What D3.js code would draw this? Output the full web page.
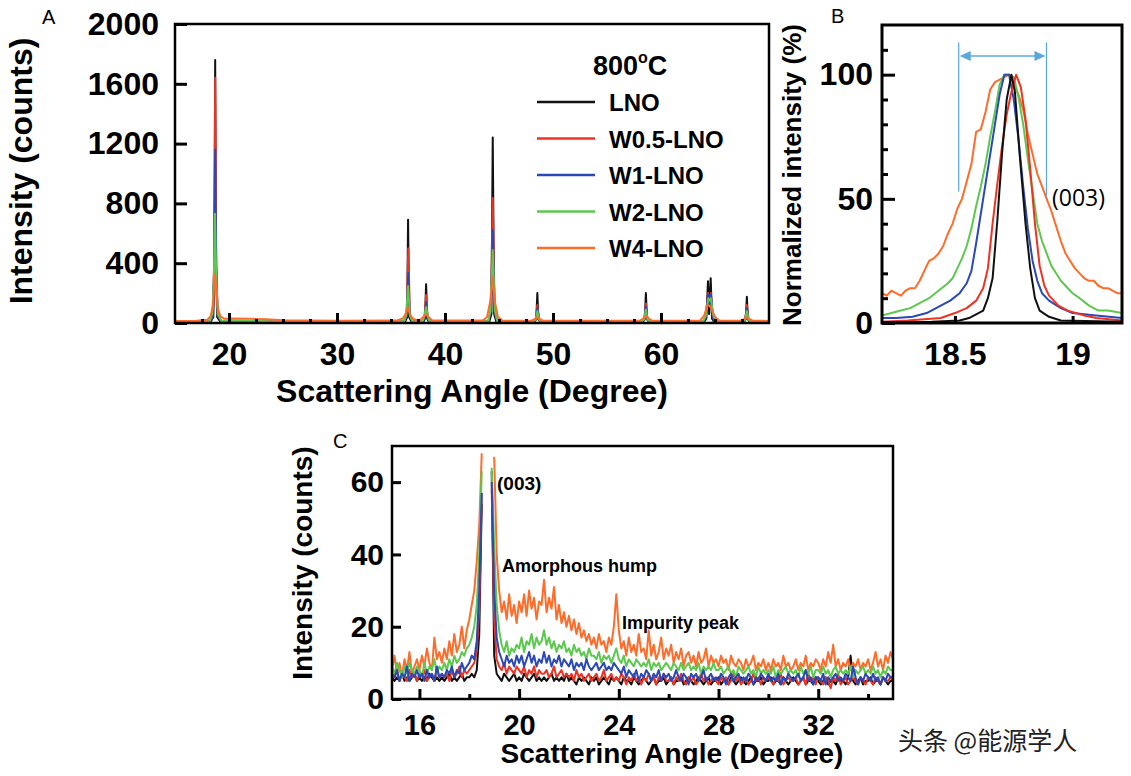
<!DOCTYPE html>
<html>
<head>
<meta charset="utf-8">
<script src="https://cdn.jsdelivr.net/npm/d3@7/dist/d3.min.js"></script>
<style>
  body { margin: 0; background: #fff; }
  svg { display: block; }
</style>
</head>
<body>
<svg id="chart" width="1131" height="776"></svg>
<script>
const FONT = '"Liberation Sans", Arial, Helvetica, sans-serif';

const seriesNames = ["LNO", "W0.5-LNO", "W1-LNO", "W2-LNO", "W4-LNO"];
const seriesColors = ["#111111", "#ee3322", "#2a48b8", "#5cc84e", "#ff6c2a"];

// ---- panel A: full patterns, [angle, counts]
const aLNO = [[15,8],[18.3,8],[18.55,40],[18.65,400],[18.72,1760],[18.8,400],[18.9,40],[19.2,8],
  [36.3,8],[36.5,40],[36.58,690],[36.68,40],[36.9,8],[38.0,8],[38.15,30],[38.25,260],[38.35,30],[38.5,8],
  [44.1,8],[44.3,60],[44.42,1240],[44.55,60],[44.75,8],[48.3,8],[48.45,25],[48.55,200],[48.65,25],[48.8,8],
  [58.3,8],[58.5,25],[58.6,200],[58.7,25],[58.9,8],[64.0,8],[64.2,30],[64.35,280],[64.45,60],[64.6,300],
  [64.72,30],[64.9,8],[67.7,8],[67.85,25],[67.95,175],[68.05,25],[68.2,8],[70,8]];
const aW05 = [[15,10],[18.3,10],[18.5,50],[18.62,400],[18.72,1640],[18.82,400],[18.95,50],[19.3,10],
  [36.2,10],[36.45,50],[36.6,500],[36.75,50],[37,10],[37.9,10],[38.1,35],[38.25,187],[38.4,35],[38.6,10],
  [44.0,10],[44.25,80],[44.42,836],[44.6,80],[44.85,10],[48.2,10],[48.4,25],[48.55,120],[48.7,25],[48.9,10],
  [58.2,10],[58.45,25],[58.6,130],[58.75,25],[59.0,10],[63.9,10],[64.15,40],[64.35,200],[64.48,120],[64.62,200],
  [64.8,40],[65.0,10],[67.6,10],[67.8,25],[67.95,120],[68.1,25],[68.3,10],[70,10]];
const aW1 = [[15,8],[18.3,9],[18.5,50],[18.62,350],[18.72,1160],[18.82,350],[18.95,50],[19.3,10],
  [36.2,9],[36.45,50],[36.6,334],[36.75,50],[37,9],[37.9,9],[38.1,30],[38.25,140],[38.4,30],[38.6,9],
  [44.0,9],[44.25,80],[44.42,622],[44.6,80],[44.85,9],[48.2,9],[48.4,25],[48.55,100],[48.7,25],[48.9,9],
  [58.2,9],[58.45,25],[58.6,110],[58.75,25],[59.0,9],[63.9,9],[64.15,40],[64.35,190],[64.48,120],[64.62,190],
  [64.8,40],[65.0,9],[67.6,9],[67.8,25],[67.95,100],[68.1,25],[68.3,9],[70,9]];
const aW2 = [[15,9],[18.2,10],[18.45,60],[18.6,300],[18.7,730],[18.82,300],[18.97,60],[19.3,15],[20,16],[23,14],[24,10],
  [36.2,10],[36.4,50],[36.58,247],[36.75,50],[37,10],[37.9,10],[38.05,35],[38.25,107],[38.45,35],[38.6,10],
  [44.0,10],[44.2,80],[44.42,488],[44.62,80],[44.85,10],[48.2,10],[48.4,25],[48.55,80],[48.7,25],[48.9,10],
  [58.2,10],[58.45,25],[58.6,90],[58.75,25],[59.0,10],[63.9,10],[64.15,50],[64.38,165],[64.5,150],[64.62,165],
  [64.85,50],[65.1,10],[67.6,10],[67.8,25],[67.95,80],[68.1,25],[68.3,10],[70,10]];
const aW4 = [[15,14],[17,15],[18.0,22],[18.3,45],[18.5,110],[18.62,250],[18.7,330],[18.8,250],[18.95,100],[19.2,45],
  [19.6,28],[20.5,30],[22,28],[23.5,25],[25,18],[30,15],[35.5,16],[36.1,30],[36.35,60],[36.55,107],[36.75,60],
  [37.0,30],[37.3,20],[37.7,22],[38.0,40],[38.25,60],[38.5,38],[38.8,18],[43.5,16],[43.9,40],[44.2,150],[44.4,308],
  [44.6,150],[44.9,40],[45.3,16],[48.0,15],[48.3,25],[48.55,40],[48.8,25],[49.1,15],[58.0,15],[58.35,30],[58.6,50],
  [58.85,30],[59.2,15],[63.6,16],[64.0,50],[64.3,120],[64.5,115],[64.7,90],[65.0,40],[65.4,16],[67.4,15],[67.7,25],
  [67.95,40],[68.2,25],[68.5,15],[70,14]];
const aSeries = [aLNO, aW05, aW1, aW2, aW4];
const aYTicks = [0, 400, 800, 1200, 1600, 2000];
const aXTicks = [20, 30, 40, 50, 60];
const aXMinor = [17.5, 22.5, 25, 27.5, 32.5, 35, 37.5, 42.5, 45, 47.5, 52.5, 55, 57.5, 62.5, 65, 67.5];

// ---- panel B: (003) normalized, [angle, %]
const bLNO = [[18.19,0.3],[18.4,0.5],[18.52,1],[18.56,2],[18.6,4],[18.62,5],[18.64,10],[18.66,18],[18.68,41],[18.7,68],
  [18.72,90],[18.74,100],[18.755,93],[18.775,68],[18.8,40],[18.82,22],[18.84,10],[18.86,5],[18.9,2.5],[18.95,1],[19.21,0.5]];
const bW05 = [[18.19,0.5],[18.3,1],[18.44,2],[18.5,4],[18.55,6],[18.59,9],[18.62,14],[18.64,22],[18.66,40],[18.68,56],
  [18.7,71],[18.72,84],[18.74,93],[18.76,100],[18.78,95],[18.8,82],[18.82,62],[18.84,40],[18.86,23],[18.88,15],[18.9,11],
  [18.94,7],[18.98,5],[19.05,3],[19.1,2],[19.21,1]];
const bW1 = [[18.19,2],[18.25,2],[18.32,2.5],[18.38,4],[18.44,7],[18.48,9],[18.52,12],[18.55,16],[18.57,21],[18.59,32],
  [18.61,44],[18.63,56],[18.65,68],[18.67,80],[18.69,92],[18.71,100],[18.73,100],[18.75,90],[18.77,74],[18.79,55],
  [18.81,38],[18.83,25],[18.85,17],[18.87,12],[18.9,9],[18.95,6],[19.0,4],[19.1,3],[19.21,2]];
const bW2 = [[18.19,3],[18.23,4],[18.27,5],[18.31,6],[18.35,8],[18.39,10],[18.43,13],[18.47,16],[18.49,18],[18.51,22],
  [18.53,26],[18.55,31],[18.57,38],[18.59,47],[18.61,55],[18.63,64],[18.65,75],[18.67,85],[18.69,96],[18.71,100],
  [18.73,100],[18.75,99],[18.77,91],[18.79,80],[18.81,66],[18.83,53],[18.85,40],[18.87,33],[18.89,28],[18.91,23],
  [18.93,20],[18.95,17],[18.97,15],[19.0,12],[19.03,10],[19.07,7],[19.11,5],[19.15,5],[19.21,4]];
const bW4 = [[18.19,12],[18.21,11],[18.23,13],[18.25,12],[18.27,11],[18.29,13],[18.31,14],[18.33,14],[18.35,17],[18.37,21],
  [18.39,25],[18.41,26],[18.43,28],[18.45,31],[18.47,36],[18.49,40],[18.51,46],[18.53,50],[18.55,57],[18.57,64],
  [18.59,77],[18.61,78],[18.63,85],[18.65,94],[18.67,97],[18.69,98],[18.71,99],[18.73,100],[18.75,96],[18.77,92],
  [18.79,86],[18.81,76],[18.83,68],[18.85,60],[18.87,55],[18.89,50],[18.91,45],[18.93,39],[18.95,33],[18.97,28],
  [18.99,25],[19.01,22],[19.03,20],[19.05,18],[19.07,17],[19.09,17],[19.11,15],[19.13,14],[19.15,14],[19.17,13],
  [19.19,12],[19.21,12]];
const bSeries = [bLNO, bW05, bW1, bW2, bW4];
const bYTicks = [0, 50, 100];
const bYMinor = [10, 20, 30, 40, 60, 70, 80, 90, 110];
const bXTicks = [18.5, 19];
const bFwhmEdges = [[18.516, 53], [18.889, 51]];
const bFwhmTop = 113, bFwhmArrow = 107.5;

// ---- panel C: zoomed low-angle region, counts every 0.1 deg from 14.9
const cStartAngle = 14.9, cStepAngle = 0.1;
const cLNO = [6,
  5,6,5,7,5,6,5,6,7,5, 6,5,6,5,7,6,5,6,5,6, 5,6,7,5,6,5,6,7,5,6,
  6,7,6,8,18,54,600,900,520,63, 12,7,6,5,7,6,5,6,7,5, 6,5,7,6,5,6,7,5,6,5,
  6,5,6,7,5,6,5,6,5,7, 5,6,5,4,6,5,6,5,4,6, 5,6,4,5,6,5,4,6,5,6,
  5,4,6,5,5,4,6,5,4,5, 6,5,4,5,6,4,5,5,6,4, 5,6,4,5,5,6,4,5,6,5,
  4,5,6,5,4,5,6,4,5,5, 6,4,5,5,4,6,5,4,5,6, 5,4,5,6,4,5,5,6,4,5,
  5,6,4,5,5,4,6,5,4,5, 6,5,4,5,6,4,5,5,4,6, 5,4,5,6,4,5,5,4,6,5,
  5,4,6,12,5,4,5,6,4,5, 5,6,4,5,5,4,6,5,4,5,
  5];
const cW05 = [7,
  6,8,5,7,6,5,8,6,7,5, 7,6,8,5,6,7,5,8,6,7, 6,7,5,8,6,7,9,6,8,7,
  8,9,10,13,25,57,330,540,320,58, 22,11,9,8,10,7,9,8,7,9, 8,7,9,6,8,7,9,6,8,7,
  7,8,6,7,9,6,7,8,6,7, 6,7,5,8,6,7,5,6,7,5, 6,7,5,6,8,5,6,7,5,6,
  5,7,6,4,6,5,7,5,6,4, 6,5,7,5,6,4,6,5,7,5, 5,6,4,6,5,7,5,4,6,5,
  6,4,5,7,5,6,4,5,6,5, 4,6,5,6,4,5,7,5,6,4, 5,6,4,5,7,5,6,4,6,5,
  6,5,4,6,5,7,4,5,6,5, 5,6,4,5,6,4,7,5,6,4, 6,5,4,6,5,3,6,5,7,4,
  5,6,4,5,6,5,4,6,5,4, 6,5,4,6,5,4,6,5,5,6,
  5];
const cW1 = [7,
  6,8,5,7,6,9,5,7,6,8, 6,7,5,8,6,7,5,9,6,7, 6,8,7,9,6,8,7,10,8,9,
  10,12,11,16,30,57,320,520,300,60, 30,17,13,11,9,12,10,11,9,12, 10,12,9,11,13,10,12,9,11,10,
  13,10,12,9,11,10,12,9,11,10, 9,11,8,10,9,10,8,11,9,8, 9,10,8,9,10,8,9,8,10,9,
  8,7,9,6,8,7,6,8,5,7, 6,8,7,5,7,6,8,5,7,6, 7,5,6,8,6,5,7,6,4,7,
  6,7,5,6,8,5,6,7,5,6, 5,7,6,4,6,7,5,6,7,5, 6,5,7,6,4,6,5,7,6,5,
  7,5,6,5,7,4,6,5,7,6, 5,6,7,5,6,8,5,6,4,6, 6,5,7,4,6,5,6,7,5,6,
  5,7,6,5,9,6,4,6,5,7, 6,5,7,5,6,4,6,5,7,6,
  6];
const cW2 = [9,
  7,10,8,6,9,7,10,8,7,9, 8,6,10,7,9,8,11,7,9,8, 10,8,11,9,12,10,11,13,12,14,
  15,17,20,26,40,63,350,560,330,64, 42,26,19,15,13,16,12,14,13,15, 14,17,13,16,15,18,14,17,15,16,
  19,15,17,14,16,13,15,14,16,13, 14,12,15,13,14,12,13,11,14,12, 12,11,13,10,12,11,12,10,12,14,
  11,10,12,9,11,10,9,11,10,9, 10,9,11,8,10,9,10,8,9,10, 9,8,10,9,8,10,8,9,10,8,
  9,8,10,7,9,8,9,8,10,8, 8,9,7,8,9,7,8,6,9,8, 7,8,9,7,8,6,9,7,8,7,
  8,7,9,6,8,7,8,9,7,8, 7,8,6,9,7,8,7,9,6,8, 8,7,9,7,8,6,8,9,7,8,
  7,8,7,9,6,8,7,8,9,7, 8,7,9,7,8,6,8,7,9,8,
  8];
const cW4 = [8,
  12,7,10,6,11,8,13,7,9,11, 8,12,9,14,10,8,17,11,13,10, 14,11,16,12,18,13,15,20,14,19,
  22,26,30,38,48,68,420,650,380,140, 67,40,30,24,27,22,29,23,26,21, 27,24,29,23,30,25,28,22,27,26,
  33,24,28,25,31,22,26,21,24,20, 23,19,22,18,21,17,19,16,18,15, 17,14,18,15,16,13,17,15,20,29,
  19,14,16,12,17,13,15,12,18,13, 14,11,19,12,15,11,13,17,11,14, 12,15,10,13,11,14,9,12,13,10,
  12,9,13,10,11,14,9,12,10,11, 9,12,10,11,8,12,10,9,11,10, 8,11,9,10,12,8,10,9,11,8,
  10,8,11,9,10,8,12,9,10,8, 9,11,8,10,9,12,8,10,9,11, 10,8,11,9,13,10,15,9,11,8,
  10,9,11,8,10,9,11,8,10,9, 11,8,10,13,9,11,8,12,10,13,
  11];
const cSeries = [cLNO, cW05, cW1, cW2, cW4];
const cYTicks = [0, 20, 40, 60];
const cXTicks = [16, 20, 24, 28, 32];
const cXMinor = [18, 22, 26, 30, 34];

const svg = d3.select("#chart");
svg.append("rect").attr("width", 1131).attr("height", 776).attr("fill", "#fff");

function styleAxis(a, size) {
  a.select(".domain").remove();
  a.selectAll(".tick line").attr("stroke", "#000").attr("stroke-width", 3);
  a.selectAll(".tick text")
    .attr("font-family", FONT).attr("font-weight", "bold")
    .attr("font-size", size).attr("fill", "#000");
  return a;
}

function addClip(id, x, y) {
  svg.append("clipPath").attr("id", id).append("rect")
    .attr("x", x.range()[0]).attr("y", y.range()[1])
    .attr("width", x.range()[1] - x.range()[0])
    .attr("height", y.range()[0] - y.range()[1]);
}

function addFrame(x, y, w) {
  svg.append("rect")
    .attr("x", x.range()[0]).attr("y", y.range()[1])
    .attr("width", x.range()[1] - x.range()[0])
    .attr("height", y.range()[0] - y.range()[1])
    .attr("fill", "none").attr("stroke", "#000").attr("stroke-width", w);
}

function label(txt, x, y, size, opts) {
  opts = opts || {};
  const t = svg.append("text").attr("x", x).attr("y", y)
    .attr("font-family", opts.family || FONT)
    .attr("font-weight", opts.weight || "bold")
    .attr("font-size", size)
    .attr("text-anchor", opts.anchor || "start")
    .attr("fill", "#000")
    .text(txt);
  if (opts.rotate) t.attr("transform", `rotate(-90,${x},${y})`);
  return t;
}

const plain = d => String(d);

// ================= Panel A =================
const aX = d3.scaleLinear().domain([15, 70]).range([175, 769]);
const aY = d3.scaleLinear().domain([0, 2000]).range([323, 24]);
addClip("clipA", aX, aY);

const aLine = d3.line().x(d => aX(d[0])).y(d => aY(d[1]));
svg.append("g").attr("clip-path", "url(#clipA)")
  .selectAll("path").data(aSeries).join("path")
    .attr("d", aLine)
    .attr("fill", "none")
    .attr("stroke", (d, i) => seriesColors[i])
    .attr("stroke-width", 2)
    .attr("stroke-linejoin", "round");

styleAxis(svg.append("g").attr("transform", "translate(0,323)")
  .call(d3.axisBottom(aX).tickValues(aXTicks).tickFormat(plain).tickSize(-10).tickPadding(19)), 32);
styleAxis(svg.append("g").attr("transform", "translate(0,323)")
  .call(d3.axisBottom(aX).tickValues(aXMinor).tickSize(-4).tickFormat("")), 32);
styleAxis(svg.append("g").attr("transform", "translate(175,0)")
  .call(d3.axisLeft(aY).tickValues(aYTicks).tickFormat(plain).tickSize(-12).tickPadding(16)), 32);
addFrame(aX, aY, 2.5);

label("A", 42, 24, 20, { weight: "normal" });
label("Intensity (counts)", 32, 171, 32, { anchor: "middle", rotate: true });
label("Scattering Angle (Degree)", 472, 402, 32, { anchor: "middle" });

// legend
const lt = label("800", 593, 75, 27);
lt.append("tspan").attr("font-size", 16).attr("dy", -12).text("o");
lt.append("tspan").attr("dy", 12).text("C");
const legend = svg.append("g").selectAll("g").data(seriesNames).join("g")
  .attr("transform", (d, i) => `translate(537,${102 + i * 36.5})`);
legend.append("line").attr("x1", 0).attr("x2", 58)
  .attr("stroke", (d, i) => seriesColors[i]).attr("stroke-width", 2.5);
legend.append("text").attr("x", 72).attr("y", 9)
  .attr("font-family", FONT).attr("font-weight", "bold").attr("font-size", 24)
  .text(d => d);

// ================= Panel B =================
const bX = d3.scaleLinear().domain([18.19, 19.21]).range([882, 1122]);
const bY = d3.scaleLinear().domain([0, 120]).range([323, 25]);
addClip("clipB", bX, bY);

const bLine = d3.line().x(d => bX(d[0])).y(d => bY(d[1]));
const bOrder = [4, 3, 2, 1, 0];
svg.append("g").attr("clip-path", "url(#clipB)")
  .selectAll("path").data(bOrder).join("path")
    .attr("d", i => bLine(bSeries[i]))
    .attr("fill", "none")
    .attr("stroke", i => seriesColors[i])
    .attr("stroke-width", 2)
    .attr("stroke-linejoin", "round");

// FWHM bracket
const arrowCol = "#5aa8dc";
const fw = svg.append("g");
fw.selectAll("line.edge").data(bFwhmEdges).join("line")
  .attr("x1", d => bX(d[0])).attr("x2", d => bX(d[0]))
  .attr("y1", d => bY(d[1])).attr("y2", bY(bFwhmTop))
  .attr("stroke", arrowCol).attr("stroke-width", 1.2);
const ax0 = bX(bFwhmEdges[0][0]), ax1 = bX(bFwhmEdges[1][0]), ay = bY(bFwhmArrow);
fw.append("line").attr("x1", ax0 + 8).attr("x2", ax1 - 8).attr("y1", ay).attr("y2", ay)
  .attr("stroke", arrowCol).attr("stroke-width", 1.5);
fw.append("path").attr("fill", arrowCol)
  .attr("d", `M${ax0 + 1},${ay} l11,-5 l0,10 Z M${ax1 - 1},${ay} l-11,-5 l0,10 Z`);

styleAxis(svg.append("g").attr("transform", "translate(0,323)")
  .call(d3.axisBottom(bX).tickValues(bXTicks).tickFormat(plain).tickSize(-7).tickPadding(19)), 32);
styleAxis(svg.append("g").attr("transform", "translate(882,0)")
  .call(d3.axisLeft(bY).tickValues(bYTicks).tickFormat(plain).tickSize(-13).tickPadding(9)), 32);
styleAxis(svg.append("g").attr("transform", "translate(882,0)")
  .call(d3.axisLeft(bY).tickValues(bYMinor).tickSize(-6).tickFormat("")), 32);
addFrame(bX, bY, 3);

label("B", 831, 23, 20, { weight: "normal" });
label("Normalized intensity (%)", 801, 175, 26, { anchor: "middle", rotate: true });
label("(003)", 1052, 206, 23, { weight: "normal", family: '"Open Sans", "Noto Sans", sans-serif' });

// ================= Panel C =================
const cX = d3.scaleLinear().domain([14.9, 35]).range([392, 893]);
const cY = d3.scaleLinear().domain([0, 70]).range([699, 446]);
addClip("clipC", cX, cY);

const cLine = d3.line()
  .defined(d => d[1] <= cY.domain()[1])
  .x(d => cX(d[0])).y(d => cY(d[1]));
const cOrder = [0, 1, 4, 3, 2];
svg.append("g").attr("clip-path", "url(#clipC)")
  .selectAll("path").data(cOrder).join("path")
    .attr("d", i => cLine(cSeries[i].map((v, k) => [cStartAngle + k * cStepAngle, v])))
    .attr("fill", "none")
    .attr("stroke", i => seriesColors[i])
    .attr("stroke-width", 2)
    .attr("stroke-linejoin", "round");

styleAxis(svg.append("g").attr("transform", "translate(0,699)")
  .call(d3.axisBottom(cX).tickValues(cXTicks).tickFormat(plain).tickSize(-10).tickPadding(15)), 29);
styleAxis(svg.append("g").attr("transform", "translate(0,699)")
  .call(d3.axisBottom(cX).tickValues(cXMinor).tickSize(-5).tickFormat("")), 29);
styleAxis(svg.append("g").attr("transform", "translate(392,0)")
  .call(d3.axisLeft(cY).tickValues(cYTicks).tickFormat(plain).tickSize(-9).tickPadding(8)), 30);
addFrame(cX, cY, 2.5);

label("C", 333, 448, 20, { weight: "normal" });
label("Intensity (counts)", 312, 563, 28, { anchor: "middle", rotate: true });
label("Scattering Angle (Degree)", 672, 763, 28, { anchor: "middle" });
label("(003)", 497, 490, 19);
label("Amorphous hump", 502, 572, 18);
label("Impurity peak", 622, 629, 18);

// watermark
svg.append("text").attr("x", 898).attr("y", 750)
  .attr("font-family", '"Noto Sans CJK SC", sans-serif')
  .attr("font-size", 25).attr("fill", "#222")
  .text("头条 @能源学人");
</script>
</body>
</html>
